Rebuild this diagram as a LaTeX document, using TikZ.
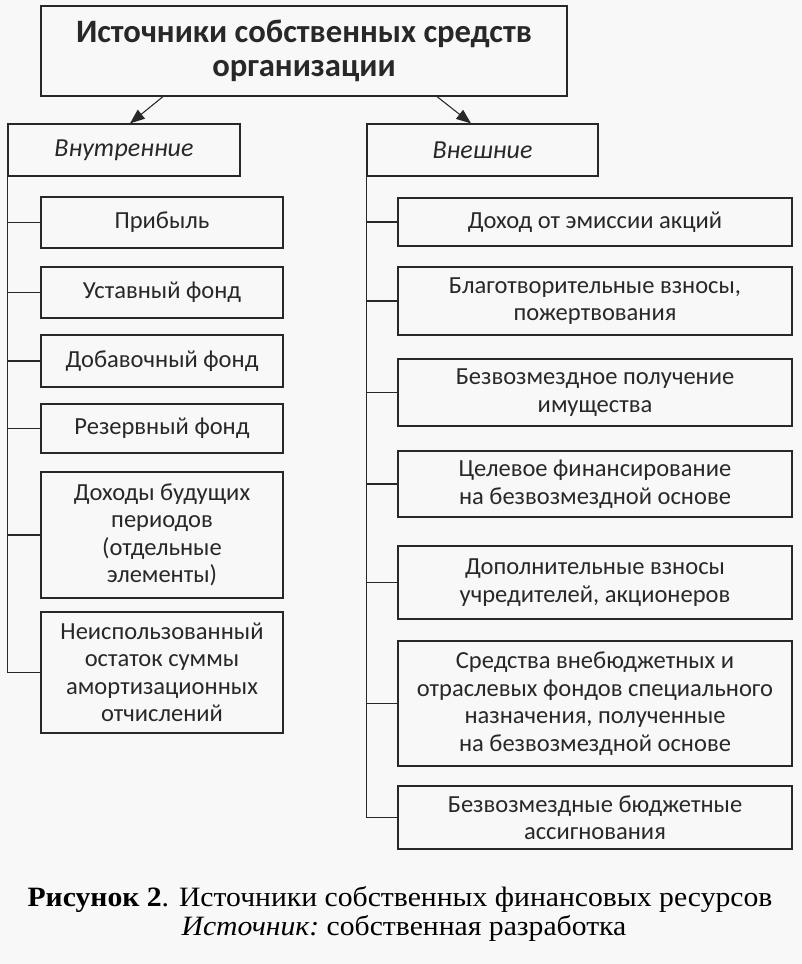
\documentclass[tikz,border=0pt]{standalone}
\usepackage{fontspec}
\setmainfont{Carlito}
\newfontfamily\capfont[FakeStretch=1.06]{Liberation Serif}
\usetikzlibrary{arrows.meta}
\definecolor{bgcol}{RGB}{248,248,248}
\definecolor{ink}{RGB}{40,40,40}
\tikzset{
  item/.style={draw=ink, line width=0.9pt, align=center, inner sep=0pt, text=ink,
    font=\fontsize{18.4}{20.6}\selectfont},
  head/.style={item, font=\fontsize{19.5}{22}\selectfont\itshape},
  arr/.style={draw=ink, line width=0.8pt, -{Triangle[length=11pt,width=8.5pt]}},
  link/.style={draw=ink, line width=0.9pt},
  capt/.style={anchor=base, text=black, font=\capfont\fontsize{21}{24}\selectfont}
}
\begin{document}
\begin{tikzpicture}[x=0.75pt,y=-0.75pt]
  \fill[bgcol] (0,0) rectangle (802,964);
  \useasboundingbox (0,0) rectangle (802,964);
  \node[item, font=\fontsize{24.5}{25}\selectfont\bfseries, minimum width=394.5pt, minimum height=67.5pt](top) at (304,51) {Источники собственных средств\\организации};
  \node[head, minimum width=174pt, minimum height=39pt](int) at (124,150) {Внутренние};
  \node[head, minimum width=173.25pt, minimum height=39pt](ext) at (482.5,150) {Внешние};
  \draw[arr]([xshift=-105.75pt]top.south) -- ([xshift=4.5pt]int.north);
  \draw[arr]([xshift=99.75pt]top.south) -- ([xshift=-8.6pt]ext.north);
  \foreach \n/\t/\b/\txt in {L1/197/248/Прибыль, L2/267/318/Уставный фонд,
      L3/335/387/Добавочный фонд, L4/404/453/Резервный фонд,
      L5/472/598/{Доходы будущих\\периодов\\(отдельные\\элементы)},
      L6/612/733/{Неиспользованный\\остаток суммы\\амортизационных\\отчислений}}{
    \node[item, minimum width=181.5pt, minimum height={(\b-\t)*0.75pt}](\n) at (162,{(\t+\b)/2}) {\txt};
    \draw[link](int.south west) |- (\n.west);
  }
  \foreach \n/\t/\b/\txt in {R1/198/246/Доход от эмиссии акций,
      R2/267/335/{Благотворительные взносы,\\пожертвования},
      R3/359/426/{Безвозмездное получение\\имущества},
      R4/451/517/{Целевое финансирование\\на безвозмездной основе},
      R5/546/619/{Дополнительные взносы\\учредителей, акционеров},
      R6/641/766/{Средства внебюджетных и\\отраслевых фондов специального\\назначения, полученные\\на безвозмездной основе},
      R7/786/849/{Безвозмездные бюджетные\\ассигнования}}{
    \node[item, minimum width=295.5pt, minimum height={(\b-\t)*0.75pt}](\n) at (595,{(\t+\b)/2}) {\txt};
    \draw[link](ext.south west) |- (\n.west);
  }
  \node[capt](cap1) at (400,906) {\textbf{Рисунок 2}. Источники собственных финансовых ресурсов};
  \node[capt](cap2) at (404,935) {\textit{Источник:}~собственная разработка};
\end{tikzpicture}
\end{document}
